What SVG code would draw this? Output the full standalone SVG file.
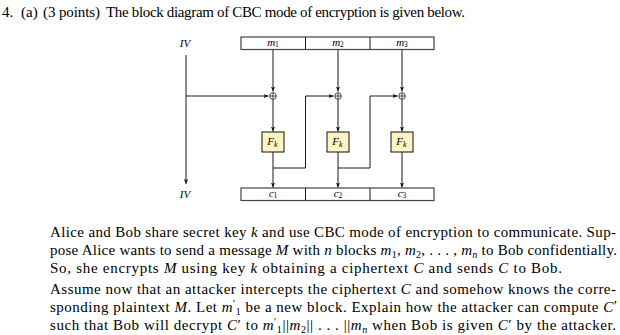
<svg xmlns="http://www.w3.org/2000/svg" width="620" height="335" viewBox="0 0 620 335">
<style>
text{font-family:"Liberation Serif","DejaVu Serif",serif;fill:#000}
.t{font-size:15px}
.lbl{font-size:11px}
.i{font-style:italic}
.ln{fill:none;stroke:#1a1a1a;stroke-width:1}
.box{fill:#fff;stroke:#444;stroke-width:1.2}
.fk{fill:#fdf5c0;stroke:#111;stroke-width:1}
.xor{fill:none;stroke:#222;stroke-width:0.8}
</style>
<defs>
<marker id="ah" viewBox="0 0 6 6" refX="6" refY="3" markerWidth="5" markerHeight="5" orient="auto" markerUnits="userSpaceOnUse">
<path d="M0,0.5 L6,3 L0,5.5 L1.5,3 z" fill="#111"/>
</marker>
<g id="oplus"><circle class="xor" cx="0" cy="0" r="3.3"/><path class="xor" d="M-3.3,0 H3.3 M0,-3.3 V3.3"/></g>
</defs>
<rect width="620" height="335" fill="#fff"/>
<g id="title" class="t">
<text x="2" y="17">4.</text>
<text x="21" y="17">(a)</text>
<text x="43" y="17" textLength="57" lengthAdjust="spacing">(3 points)</text>
<text x="106" y="17" textLength="359" lengthAdjust="spacing">The block diagram of CBC mode of encryption is given below.</text>
</g>

<g id="plaintext">
<rect class="box" x="241" y="37" width="193" height="12.5"/>
<line class="ln" x1="305.5" y1="37" x2="305.5" y2="49.5"/>
<line class="ln" x1="370" y1="37" x2="370" y2="49.5"/>
<text class="lbl i" x="273" y="45.5" text-anchor="middle">m<tspan font-size="7.5" font-style="normal" dy="1.5">1</tspan></text>
<text class="lbl i" x="338" y="45.5" text-anchor="middle">m<tspan font-size="7.5" font-style="normal" dy="1.5">2</tspan></text>
<text class="lbl i" x="402" y="45.5" text-anchor="middle">m<tspan font-size="7.5" font-style="normal" dy="1.5">3</tspan></text>
</g>
<g id="ciphertext">
<rect class="box" x="241" y="188" width="193" height="12.5"/>
<line class="ln" x1="305.5" y1="188" x2="305.5" y2="200.5"/>
<line class="ln" x1="370" y1="188" x2="370" y2="200.5"/>
<text class="lbl i" x="273" y="196.5" text-anchor="middle">c<tspan font-size="7.5" font-style="normal" dy="1.5">1</tspan></text>
<text class="lbl i" x="338" y="196.5" text-anchor="middle">c<tspan font-size="7.5" font-style="normal" dy="1.5">2</tspan></text>
<text class="lbl i" x="402" y="196.5" text-anchor="middle">c<tspan font-size="7.5" font-style="normal" dy="1.5">3</tspan></text>
</g>
<g id="iv-top"><text class="lbl i" x="185" y="47" text-anchor="middle">IV</text></g>
<g id="iv-bottom"><text class="lbl i" x="185" y="198" text-anchor="middle">IV</text></g>

<g id="xor1"><use href="#oplus" x="273" y="96"/></g>
<g id="xor2"><use href="#oplus" x="338" y="96"/></g>
<g id="xor3"><use href="#oplus" x="402" y="96"/></g>

<g id="fk1"><rect class="fk" x="262" y="132" width="22" height="20"/><text class="lbl i" x="272.5" y="145" text-anchor="middle">F<tspan font-size="8" dy="1.5">k</tspan></text></g>
<g id="fk2"><rect class="fk" x="327" y="132" width="22" height="20"/><text class="lbl i" x="337.5" y="145" text-anchor="middle">F<tspan font-size="8" dy="1.5">k</tspan></text></g>
<g id="fk3"><rect class="fk" x="391" y="132" width="22" height="20"/><text class="lbl i" x="401.5" y="145" text-anchor="middle">F<tspan font-size="8" dy="1.5">k</tspan></text></g>

<g id="connectors">
<line class="ln" x1="186" y1="55" x2="186" y2="184" marker-end="url(#ah)"/>
<line class="ln" x1="186" y1="96" x2="268.5" y2="96" marker-end="url(#ah)"/>
<line class="ln" x1="273" y1="50" x2="273" y2="91.5" marker-end="url(#ah)"/>
<line class="ln" x1="338" y1="50" x2="338" y2="91.5" marker-end="url(#ah)"/>
<line class="ln" x1="402" y1="50" x2="402" y2="91.5" marker-end="url(#ah)"/>
<line class="ln" x1="273" y1="99.5" x2="273" y2="131.5" marker-end="url(#ah)"/>
<line class="ln" x1="338" y1="99.5" x2="338" y2="131.5" marker-end="url(#ah)"/>
<line class="ln" x1="402" y1="99.5" x2="402" y2="131.5" marker-end="url(#ah)"/>
<line class="ln" x1="273" y1="152" x2="273" y2="187.5" marker-end="url(#ah)"/>
<line class="ln" x1="338" y1="152" x2="338" y2="187.5" marker-end="url(#ah)"/>
<line class="ln" x1="402" y1="152" x2="402" y2="187.5" marker-end="url(#ah)"/>
<polyline class="ln" points="273,168 305.5,168 305.5,96 333.5,96" marker-end="url(#ah)"/>
<polyline class="ln" points="338,168 370,168 370,96 397.5,96" marker-end="url(#ah)"/>
</g>

<g id="paragraph" class="t">
<text x="50" y="237" textLength="566" lengthAdjust="spacing">Alice and Bob share secret key <tspan class="i">k</tspan> and use CBC mode of encryption to communicate. Sup-</text>
<text x="50" y="255" textLength="567" lengthAdjust="spacing">pose Alice wants to send a message <tspan class="i">M</tspan> with <tspan class="i">n</tspan> blocks <tspan class="i">m</tspan><tspan font-size="10" dy="3">1</tspan><tspan dy="-3">, </tspan><tspan class="i">m</tspan><tspan font-size="10" dy="3">2</tspan><tspan dy="-3">, . . . , </tspan><tspan class="i">m</tspan><tspan font-size="10" class="i" dy="3">n</tspan><tspan dy="-3"> to Bob confidentially.</tspan></text>
<text x="50" y="273" textLength="512" lengthAdjust="spacing">So, she encrypts <tspan class="i">M</tspan> using key <tspan class="i">k</tspan> obtaining a ciphertext <tspan class="i">C</tspan> and sends <tspan class="i">C</tspan> to Bob.</text>
<text x="50" y="294" textLength="566" lengthAdjust="spacing">Assume now that an attacker intercepts the ciphertext <tspan class="i">C</tspan> and somehow knows the corre-</text>
<text x="50" y="312" textLength="567" lengthAdjust="spacing">sponding plaintext <tspan class="i">M</tspan>. Let <tspan class="i">m</tspan><tspan font-size="10" dy="-5">′</tspan><tspan font-size="10" dy="8">1</tspan><tspan dy="-3"> be a new block. Explain how the attacker can compute </tspan><tspan class="i">C</tspan><tspan dy="-1">′</tspan></text>
<text x="50" y="330" textLength="566" lengthAdjust="spacing">such that Bob will decrypt <tspan class="i">C</tspan>′ to <tspan class="i">m</tspan><tspan font-size="10" dy="-5">′</tspan><tspan font-size="10" dy="8">1</tspan><tspan dy="-3">||</tspan><tspan class="i">m</tspan><tspan font-size="10" dy="3">2</tspan><tspan dy="-3">|| . . . ||</tspan><tspan class="i">m</tspan><tspan font-size="10" class="i" dy="3">n</tspan><tspan dy="-3"> when Bob is given </tspan><tspan class="i">C</tspan>′ by the attacker.</text>
</g>
</svg>
